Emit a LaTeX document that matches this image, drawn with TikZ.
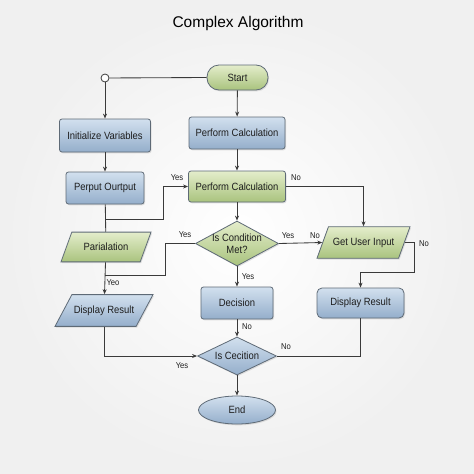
\documentclass[tikz,border=0pt]{standalone}
\usepackage{fontspec}
\setmainfont{Liberation Sans}[FakeStretch=0.9]
\newfontfamily\titlefont{Liberation Sans}
\usetikzlibrary{shapes.geometric,arrows.meta,shadows}
\definecolor{bluetop}{HTML}{D2E0EE}
\definecolor{bluebot}{HTML}{94AECB}
\definecolor{greentop}{HTML}{E4EDCB}
\definecolor{greenbot}{HTML}{A9C37E}
\definecolor{bordercol}{HTML}{5E6A76}
\definecolor{linecol}{HTML}{3A3A3A}
\definecolor{textcol}{HTML}{1E1E1E}
\begin{document}
\begin{tikzpicture}[x=1pt,y=-1pt,
  base/.style={draw=bordercol, line width=0.8pt, text=textcol, inner sep=0pt,
    font=\fontsize{10.5}{12}\selectfont,
    drop shadow={opacity=0.22, shadow xshift=1pt, shadow yshift=-1.3pt}},
  bluefill/.style={top color=bluetop, bottom color=bluebot},
  greenfill/.style={top color=greentop, bottom color=greenbot},
  boxnode/.style={base, rectangle, rounded corners=2.5pt},
  paranode/.style={base, trapezium, trapezium left angle=70, trapezium right angle=110, trapezium stretches body=true, inner ysep=11pt},
  decnode/.style={base, diamond},
  arr/.style={draw=linecol, line width=0.85pt, -{Stealth[length=5pt,width=4pt]}},
  ln/.style={draw=linecol, line width=0.85pt},
  lab/.style={font=\fontsize{8.5}{10}\selectfont, text=textcol, inner sep=0pt}
]
\useasboundingbox (0,0) rectangle (474,474);
\fill[inner color=white, outer color=black!6] (0,0) rectangle (474,474);
\node[font=\titlefont\fontsize{15.5}{18}\selectfont, text=black] (title) at (238,23) {Complex Algorithm};

\node[base, greenfill, rectangle, rounded corners=12pt, minimum width=61pt, minimum height=25pt] (start) at (237.5,77.5) {Start};
\node[circle, draw=linecol, line width=0.8pt, fill=white, inner sep=0pt, minimum size=8pt] (c0) at (105,78) {};
\node[boxnode, bluefill, minimum width=91pt, minimum height=33pt] (init) at (105,135.5) {Initialize Variables};
\node[boxnode, bluefill, minimum width=96pt, minimum height=32pt] (pc1) at (237,133) {Perform Calculation};
\node[boxnode, bluefill, minimum width=78pt, minimum height=32pt] (perput) at (105,188) {Perput Ourtput};
\node[boxnode, greenfill, minimum width=97pt, minimum height=31pt] (pc2) at (237,186.5) {Perform Calculation};
\node[decnode, greenfill, minimum width=83pt, minimum height=45pt,
  label={[align=center, font=\fontsize{10.5}{11.5}\selectfont, text=textcol, inner sep=0pt]center:Is Condition\\Met?}] (cond) at (237,243.5) {};
\node[paranode, greenfill, minimum width=90pt] (parial) at (106,247) {Parialation};
\node[paranode, greenfill, minimum width=93pt] (gui) at (363.5,242.5) {Get User Input};
\node[paranode, bluefill, trapezium left angle=62, trapezium right angle=118, minimum width=98pt] (drl) at (104,310.5) {Display Result};
\node[boxnode, bluefill, minimum width=72pt, minimum height=32pt] (dec) at (237,303) {Decision};
\node[boxnode, bluefill, rounded corners=5pt, minimum width=87pt, minimum height=30pt] (drr) at (360.5,303) {Display Result};
\node[decnode, bluefill, minimum width=79pt, minimum height=38pt,
  label={[font=\fontsize{10.5}{12}\selectfont, text=textcol, inner sep=0pt]center:Is Cecition}] (isc) at (237,356) {};
\node[base, bluefill, ellipse, minimum width=77pt, minimum height=28pt] (end) at (237,410) {End};

\coordinate (j1) at (105,219);
\coordinate (j1b) at (163,219);
\coordinate (k1) at (165,275);
\coordinate (k2) at (105,275);
\coordinate (g1) at (414,272);

\draw[ln] (c0) -- (start.west);
\draw[arr] (c0) -- (init.north);
\draw[arr] (start) -- (pc1);
\draw[arr] (init) -- (perput);
\draw[arr] (pc1) -- (pc2);
\draw[ln] (perput) -- (parial);
\draw[arr] (j1) -- (j1b) |- (pc2.west);
\draw[arr] (pc2.east) -| (gui.north);
\draw[arr] (pc2) -- (cond);
\draw[ln] (cond.west) -| (k1) -- (k2);
\draw[arr] (parial) -- (drl);
\draw[arr] (cond.east) -- (gui.west);
\draw[arr] (gui.east) -| (g1) -| (drr.north);
\draw[arr] (cond) -- (dec);
\draw[arr] (dec) -- (isc);
\draw[arr] (drl.south) |- (isc.west);
\draw[ln] (drr.south) |- (isc.east);
\draw[arr] (isc) -- (end);

\node[lab] (l1) at (177,178) {Yes};
\node[lab] (l2) at (296,178) {No};
\node[lab] (l3) at (185,235) {Yes};
\node[lab] (l4) at (288,236) {Yes};
\node[lab] (l5) at (315,236) {No};
\node[lab] (l6) at (424,244) {No};
\node[lab] (l7) at (113,283) {Yeo};
\node[lab] (l8) at (248,277) {Yes};
\node[lab] (l9) at (247,327) {No};
\node[lab] (l10) at (182,366) {Yes};
\node[lab] (l11) at (286,347) {No};
\end{tikzpicture}
\end{document}
